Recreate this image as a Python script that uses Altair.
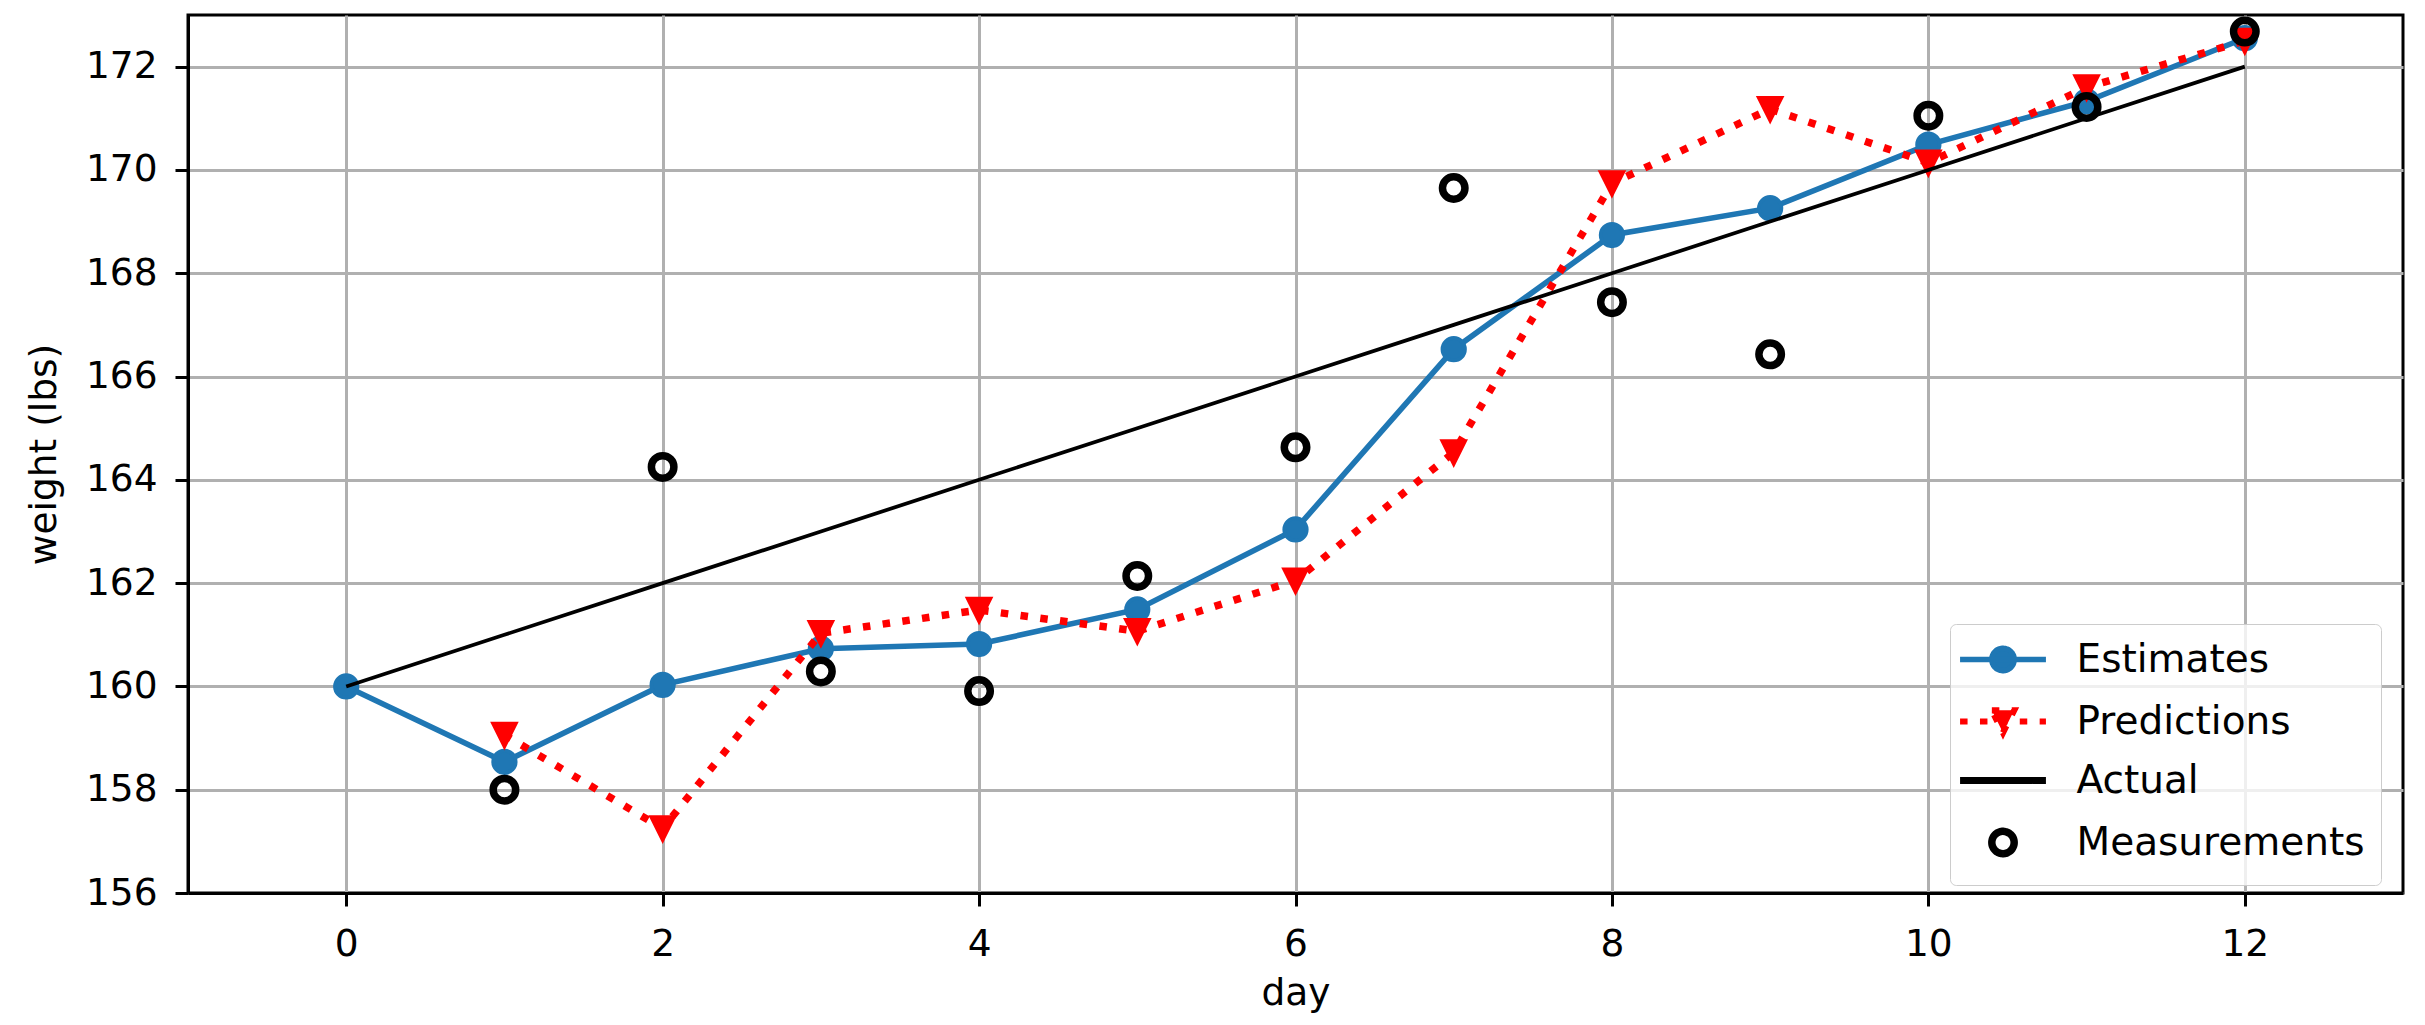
import altair as alt
import pandas as pd

## values
days = list(range(13))
estimates = [160.0, 158.54, 160.03, 160.73, 160.82, 161.49, 163.04,
             166.53, 168.74, 169.26, 170.49, 171.33, 172.55]
pred_days = list(range(1, 13))
predictions = [159.06, 157.25, 161.03, 161.48, 161.07, 162.05,
               164.53, 169.74, 171.18, 170.14, 171.6, 172.5]
meas_days = list(range(1, 13))
measurements = [158.0, 164.25, 160.29, 159.91, 162.14, 164.63,
                169.65, 167.44, 166.43, 171.05, 171.22, 172.68]
actual = [160, 161, 162, 163, 164, 165, 166, 167, 168, 169, 170, 171, 172]
series = ['Estimates', 'Predictions', 'Actual', 'Measurements']

BLUE = '#1f77b4'
FONT = 'DejaVu Sans'
W, H = 2215, 878

est_df = pd.DataFrame({'day': days, 'weight': estimates})
pred_df = pd.DataFrame({'day': pred_days, 'weight': predictions})
act_df = pd.DataFrame({'day': days, 'weight': actual})
meas_df = pd.DataFrame({'day': meas_days, 'weight': measurements})

x_enc = alt.X('day:Q', scale=alt.Scale(domain=[-1, 13], nice=False, zero=False),
              axis=alt.Axis(values=list(range(0, 13, 2)), format='d', title='day',
                            titleY=111, titleBaseline='alphabetic'))
y_enc = alt.Y('weight:Q', scale=alt.Scale(domain=[156, 173], nice=False, zero=False),
              axis=alt.Axis(values=list(range(156, 173, 2)), format='d',
                            title='weight (lbs)',
                            titleX=-133, titleY=H / 2, titleAngle=270,
                            titleBaseline='alphabetic'))

tri_down = 'M-1,-1L1,-1L0,1Z'

est = alt.Chart(est_df).mark_line(
    color=BLUE, strokeWidth=5.6,
    point=alt.OverlayMarkDef(filled=True, shape='circle', size=506, color=BLUE,
                             stroke=BLUE, strokeWidth=3.75, opacity=1)
).encode(x=x_enc, y=y_enc)

pred_line = alt.Chart(pred_df).mark_line(
    color='red', strokeWidth=7.5, strokeDash=[7.5, 12.4]
).encode(x='day:Q', y='weight:Q')
pred_pts = alt.Chart(pred_df).mark_point(
    filled=True, shape=tri_down, size=506, color='red', stroke='red',
    strokeWidth=3.75, opacity=1
).encode(x='day:Q', y='weight:Q')

act = alt.Chart(act_df).mark_line(color='black', strokeWidth=3.75).encode(
    x='day:Q', y='weight:Q')

meas = alt.Chart(meas_df).mark_point(
    shape='circle', filled=False, size=506, color='black', strokeWidth=7.5, opacity=1
).encode(x='day:Q', y='weight:Q')

## legend-only layer (no rows), symbols are custom paths like matplotlib handles
## (symbolSize kept small so every row is as tall as the label font)
leg_paths = [
    'M-2.77,0H2.77M-0.72,0A0.72,0.72,0,1,0,0.72,0A0.72,0.72,0,1,0,-0.72,0Z',
    'M-2.77,0H2.77M-0.72,-0.72H0.72L0,0.72Z',
    'M-2.77,0H2.77',
    'M-0.72,0A0.72,0.72,0,1,0,0.72,0A0.72,0.72,0,1,0,-0.72,0Z',
]
leg_fill = [BLUE, 'red', 'transparent', 'transparent']
leg_stroke = [BLUE, 'red', 'black', 'black']
leg_dash = [[1, 0], [7.5, 12.4], [1, 0], [1, 0]]
leg_width = [5.6, 7.5, 3.75, 7.5]

legend = alt.Legend(
    title=None, orient='none', legendX=1762, legendY=609, padding=16,
    rowPadding=15, symbolOffset=17.5, labelOffset=54, symbolSize=961,
    labelFontSize=39, labelFont=FONT, labelColor='black', labelLimit=500,
    fillColor='rgba(255,255,255,0.8)', strokeColor='#cccccc', cornerRadius=6,
)
leg = alt.Chart(alt.Data(values=[])).mark_point(filled=True, opacity=1).encode(
    shape=alt.Shape('series:N', scale=alt.Scale(domain=series, range=leg_paths), legend=legend),
    fill=alt.Fill('series:N', scale=alt.Scale(domain=series, range=leg_fill), legend=legend),
    stroke=alt.Stroke('series:N', scale=alt.Scale(domain=series, range=leg_stroke), legend=legend),
    strokeDash=alt.StrokeDash('series:N', scale=alt.Scale(domain=series, range=leg_dash), legend=legend),
    strokeWidth=alt.StrokeWidth('series:O', scale=alt.Scale(domain=series, range=leg_width), legend=legend),
)

chart = alt.layer(est, pred_line, pred_pts, act, meas, leg).properties(
    width=W, height=H,
    autosize=alt.AutoSizeParams(type='none'),
    padding={'left': 180, 'top': 7, 'right': 12, 'bottom': 130},
).configure_view(
    stroke='black', strokeWidth=3
).configure_axis(
    grid=True, gridColor='#b0b0b0', gridWidth=3,
    domain=True, domainColor='black', domainWidth=3,
    tickColor='black', tickSize=13, tickWidth=3,
    labelFont=FONT, labelFontSize=37.5, labelColor='black',
    titleFont=FONT, titleFontSize=37.5, titleColor='black', titleFontWeight='normal',
).configure_axisX(
    labelPadding=19
).configure_axisY(
    labelPadding=18
)

chart.save('out.html', embed_options={'renderer': 'svg', 'actions': False})
